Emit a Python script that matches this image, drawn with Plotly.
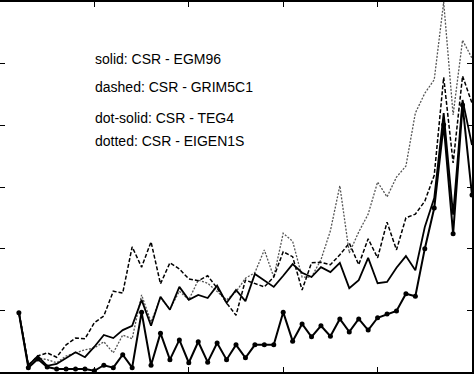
import plotly.graph_objects as go

degree = [2, 3, 4, 5, 6, 7, 8, 9, 10, 11, 12, 13, 14, 15, 16, 17, 18, 19, 20, 21,
          22, 23, 24, 25, 26, 27, 28, 29, 30, 31, 32, 33, 34, 35, 36, 37, 38, 39, 40,
          41, 42, 43, 44, 45, 46, 47, 48, 49, 50]

egm96 = [0.97, 0.10, 0.26, 0.10, 0.13, 0.23, 0.32, 0.24, 0.41, 0.60, 0.55, 0.68, 0.75,
         1.17, 0.75, 1.22, 1.01, 1.38, 1.17, 1.25, 1.20, 1.40, 1.12, 1.33, 1.15, 1.59,
         1.49, 1.38, 1.56, 1.75, 1.61, 1.54, 1.70, 1.62, 1.77, 1.36, 1.49, 1.85, 1.44,
         1.46, 1.69, 1.88, 1.65, 2.35, 2.82, 4.20, 2.55, 4.41, 3.68]

grim5c1 = [0.97, 0.11, 0.26, 0.31, 0.24, 0.44, 0.55, 0.54, 0.80, 0.91, 1.31, 1.28, 2.03,
           1.70, 2.11, 1.43, 1.77, 1.67, 1.51, 1.48, 1.56, 1.36, 1.12, 0.92, 1.49, 1.44,
           1.38, 1.54, 1.95, 1.87, 1.33, 1.77, 1.78, 1.74, 1.90, 2.09, 1.74, 2.16, 1.85,
           2.43, 1.98, 2.50, 2.56, 2.77, 3.19, 4.78, 3.39, 4.80, 4.36]

teg4 = [0.96, 0.07, 0.21, 0.08, 0.05, 0.05, 0.05, 0.05, 0.02, 0.11, 0.07, 0.28, 0.07,
        0.97, 0.11, 0.63, 0.20, 0.52, 0.15, 0.49, 0.16, 0.47, 0.20, 0.44, 0.23, 0.44,
        0.44, 0.44, 0.97, 0.50, 0.78, 0.57, 0.75, 0.58, 0.86, 0.65, 0.86, 0.68, 0.88,
        0.94, 0.99, 1.27, 1.23, 2.00, 2.66, 4.01, 2.24, 4.33, 2.87]

eigen1s = [0.97, 0.13, 0.23, 0.20, 0.15, 0.26, 0.31, 0.36, 0.39, 0.49, 0.31, 0.60, 0.54,
           1.25, 0.81, 1.20, 1.02, 1.31, 1.17, 1.49, 1.44, 1.30, 1.17, 1.30, 1.52, 1.61,
           1.98, 1.54, 2.25, 2.12, 1.54, 1.54, 1.82, 2.29, 3.02, 1.93, 2.27, 2.56, 3.08,
           2.84, 3.16, 3.34, 4.20, 4.52, 4.74, 6.00, 4.17, 5.38, 5.09]

labels = ["solid: CSR - EGM96", "dashed: CSR - GRIM5C1",
          "dot-solid: CSR - TEG4", "dotted: CSR - EIGEN1S"]

x_ticks = [10, 20, 30, 40, 50]
y_ticks = [1, 2, 3, 4, 5]

fig = go.Figure()
fig.add_trace(go.Scatter(x=degree, y=eigen1s, mode="lines",
                         line=dict(color="#555555", width=1.3, dash="2px,1.5px")))
fig.add_trace(go.Scatter(x=degree, y=grim5c1, mode="lines",
                         line=dict(color="black", width=1.5, dash="4px,2px")))
fig.add_trace(go.Scatter(x=degree, y=egm96, mode="lines",
                         line=dict(color="black", width=1.8)))
fig.add_trace(go.Scatter(x=degree, y=teg4, mode="lines+markers",
                         line=dict(color="black", width=2),
                         marker=dict(color="black", size=5)))

label_y = [59, 87, 118, 141]
for txt, py in zip(labels, label_y):
    fig.add_annotation(text=txt, xref="paper", yref="paper",
                       x=93 / 472, y=(372 - py) / 370, xanchor="left", yanchor="middle",
                       showarrow=False,
                       font=dict(family="Liberation Sans, Arial", size=14, color="black"))

axis_common = dict(showgrid=False, zeroline=False, showticklabels=False,
                   ticks="inside", ticklen=5, tickcolor="black", tickwidth=1,
                   showline=True, linecolor="black", linewidth=2, mirror="ticks")

fig.update_xaxes(range=[0, 50], tickvals=x_ticks, **axis_common)
fig.update_yaxes(range=[0, 6], tickvals=y_ticks, **axis_common)

fig.update_layout(width=474, height=374, showlegend=False, hovermode=False,
                  margin=dict(l=0, r=2, t=2, b=2),
                  plot_bgcolor="white", paper_bgcolor="white")

fig.write_html("out.html",
               config={"displayModeBar": False, "staticPlot": True},
               post_script="document.body.style.margin='0';"
                           "document.body.style.overflow='hidden';")
